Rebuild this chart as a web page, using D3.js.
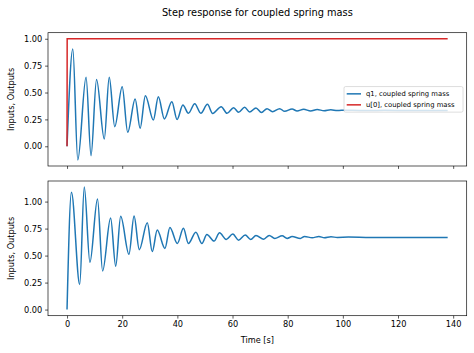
<!DOCTYPE html>
<html>
<head>
<meta charset="utf-8">
<script src="https://cdn.jsdelivr.net/npm/d3@7"></script>
<style>
  html, body { margin: 0; padding: 0; background: #fff; }
  svg { display: block; font-family: "DejaVu Sans", sans-serif; }
</style>
</head>
<body>
<svg id="chart" width="474" height="353"></svg>
<script>
// ---- data ----
const q1Time   = [0, 2.1, 3.9, 6.9, 8.7, 10.7, 13.5, 15.3, 17.3, 20.0, 22.0, 24.7, 26.5, 28.4, 31.3, 33.1, 35.3, 38.0, 39.9, 42.0, 44.0, 46.3, 48.5, 50.9, 52.8, 55.9, 58.0, 60.4, 62.2, 64.4, 66.2, 68.5, 70.5, 72.5, 74.5, 77.1, 78.9, 81.6, 83.4, 85.8, 88.3, 90.7, 93.2, 95.6, 98.0, 101.0, 106, 115, 125, 138];
const q1Values = [0, 0.904, -0.127, 0.641, -0.087, 0.622, 0.068, 0.641, 0.182, 0.554, 0.130, 0.440, 0.167, 0.470, 0.244, 0.460, 0.254, 0.415, 0.250, 0.384, 0.307, 0.395, 0.307, 0.390, 0.305, 0.368, 0.307, 0.359, 0.316, 0.362, 0.319, 0.357, 0.314, 0.350, 0.322, 0.350, 0.325, 0.347, 0.328, 0.344, 0.328, 0.342, 0.331, 0.340, 0.332, 0.336, 0.333, 0.334, 0.333, 0.333];

const uTime   = [0, 0.05, 138];
const uValues = [0, 1, 1];

const q2Time   = [0, 1.6, 4.6, 6.25, 8.3, 11.05, 12.9, 15.8, 17.65, 19.45, 22.45, 24.3, 26.2, 29.1, 30.9, 32.7, 35.5, 37.3, 40.0, 42.2, 44.0, 46.7, 48.9, 50.7, 53.3, 55.3, 57.7, 60.1, 62.2, 64.6, 66.6, 68.5, 71.3, 73.3, 75.3, 78.0, 79.8, 81.6, 84.6, 86.1, 88.9, 91.3, 93.3, 95.7, 98, 102, 110, 120, 130, 138];
const q2Values = [0, 1.086, 0.232, 1.134, 0.438, 1.024, 0.358, 0.848, 0.402, 0.864, 0.512, 0.866, 0.555, 0.804, 0.537, 0.736, 0.566, 0.761, 0.612, 0.752, 0.612, 0.715, 0.612, 0.696, 0.634, 0.711, 0.650, 0.699, 0.643, 0.690, 0.650, 0.687, 0.652, 0.687, 0.659, 0.683, 0.659, 0.676, 0.659, 0.677, 0.665, 0.677, 0.665, 0.674, 0.668, 0.671, 0.667, 0.668, 0.667, 0.667];

const xTicks = [0, 20, 40, 60, 80, 100, 120, 140];
const yTicks = [0, 0.25, 0.5, 0.75, 1.0];

const titleText  = "Step response for coupled spring mass";
const yLabelText = "Inputs, Outputs";
const xLabelText = "Time [s]";
const legendLabels = ["q1, coupled spring mass", "u[0], coupled spring mass"];

// ---- styling / layout ----
const C_BLUE = "#1f77b4", C_RED = "#d62728";
const L = 48, R = 466.7;
const AX1 = { top: 32.7, bottom: 166 };
const AX2 = { top: 181, bottom: 315.7 };
const FS_TICK = 8.2, FS_LABEL = 8.2, FS_TITLE = 9.8, FS_LEG = 6.8;
const TICK_LEN = 2.9, TICK_PAD = 2.9;
const LW = 1.5;

const svg = d3.select("#chart");

function padded(ext) {
  const d = (ext[1] - ext[0]) * 0.05;
  return [ext[0] - d, ext[1] + d];
}

const x = d3.scaleLinear().domain(padded(d3.extent(q1Time.concat(uTime)))).range([L, R]);
const y1 = d3.scaleLinear().domain(padded(d3.extent(q1Values.concat(uValues)))).range([AX1.bottom, AX1.top]);
const y2 = d3.scaleLinear().domain(padded(d3.extent(q2Values))).range([AX2.bottom, AX2.top]);

function toPts(ts, vs) { return ts.map((t, i) => [t, vs[i]]); }

function drawAxes(ax, y, showXLabels) {
  const g = svg.append("g");
  const id = "clip" + Math.round(ax.top);
  svg.append("clipPath").attr("id", id).append("rect")
    .attr("x", L).attr("y", ax.top).attr("width", R - L).attr("height", ax.bottom - ax.top);

  const yAxis = d3.axisLeft(y).tickValues(yTicks).tickFormat(d3.format(".2f"))
    .tickSize(TICK_LEN).tickPadding(TICK_PAD);
  const gy = g.append("g").attr("transform", `translate(${L},0)`).call(yAxis);
  const xAxis = d3.axisBottom(x).tickValues(xTicks)
    .tickFormat(showXLabels ? d3.format("d") : () => "")
    .tickSize(TICK_LEN).tickPadding(TICK_PAD);
  const gx = g.append("g").attr("transform", `translate(0,${ax.bottom})`).call(xAxis);
  [gx, gy].forEach(a => {
    a.select(".domain").remove();
    a.selectAll(".tick line").attr("stroke", "#000").attr("stroke-width", 0.66);
    a.selectAll(".tick text").attr("font-size", FS_TICK).attr("fill", "#000")
      .attr("font-family", "DejaVu Sans, sans-serif");
  });

  svg.append("text")
    .attr("transform", `translate(11,${(ax.top + ax.bottom) / 2}) rotate(-90)`)
    .attr("text-anchor", "middle").attr("dominant-baseline", "central")
    .attr("font-size", FS_LABEL).attr("fill", "#000")
    .text(yLabelText);
  return id;
}

const clip1 = drawAxes(AX1, y1, false);
const clip2 = drawAxes(AX2, y2, true);

const line1 = d3.line().x(d => x(d[0])).y(d => y1(d[1])).curve(d3.curveMonotoneX);
const lineU = d3.line().x(d => x(d[0])).y(d => y1(d[1])).curve(d3.curveLinear);
const line2 = d3.line().x(d => x(d[0])).y(d => y2(d[1])).curve(d3.curveMonotoneX);

svg.append("path").datum(toPts(q1Time, q1Values)).attr("d", line1)
  .attr("fill", "none").attr("stroke", C_BLUE).attr("stroke-width", LW)
  .attr("stroke-linejoin", "round").attr("clip-path", `url(#${clip1})`);
svg.append("path").datum(toPts(uTime, uValues)).attr("d", lineU)
  .attr("fill", "none").attr("stroke", C_RED).attr("stroke-width", LW)
  .attr("clip-path", `url(#${clip1})`);
svg.append("path").datum(toPts(q2Time, q2Values)).attr("d", line2)
  .attr("fill", "none").attr("stroke", C_BLUE).attr("stroke-width", LW)
  .attr("stroke-linejoin", "round").attr("clip-path", `url(#${clip2})`);

[AX1, AX2].forEach(ax => {
  svg.append("rect").attr("x", L).attr("y", ax.top)
    .attr("width", R - L).attr("height", ax.bottom - ax.top)
    .attr("fill", "none").attr("stroke", "#000").attr("stroke-width", 0.66);
});

// legend (center right of top axes)
const legW = 119, legH = 25.6;
const legX = R - 3.7 - legW, legY = (AX1.top + AX1.bottom) / 2 - legH / 2;
const lg = svg.append("g");
lg.append("rect").attr("x", legX).attr("y", legY).attr("width", legW).attr("height", legH)
  .attr("rx", 1.6).attr("fill", "#fff").attr("fill-opacity", 0.8)
  .attr("stroke", "#cccccc").attr("stroke-width", 0.66);
[C_BLUE, C_RED].forEach((c, i) => {
  const yy = legY + 7.3 + i * 11;
  lg.append("line").attr("x1", legX + 2.7).attr("x2", legX + 17)
    .attr("y1", yy).attr("y2", yy).attr("stroke", c).attr("stroke-width", LW);
  lg.append("text").attr("x", legX + 22).attr("y", yy)
    .attr("dominant-baseline", "central").attr("font-size", FS_LEG).attr("fill", "#000")
    .text(legendLabels[i]);
});

svg.append("text").attr("x", (L + R) / 2).attr("y", 12.3)
  .attr("text-anchor", "middle").attr("dominant-baseline", "central")
  .attr("font-size", FS_TITLE).attr("fill", "#000").text(titleText);
svg.append("text").attr("x", (L + R) / 2).attr("y", 340)
  .attr("text-anchor", "middle").attr("dominant-baseline", "central")
  .attr("font-size", FS_LABEL).attr("fill", "#000").text(xLabelText);
</script>
</body>
</html>
